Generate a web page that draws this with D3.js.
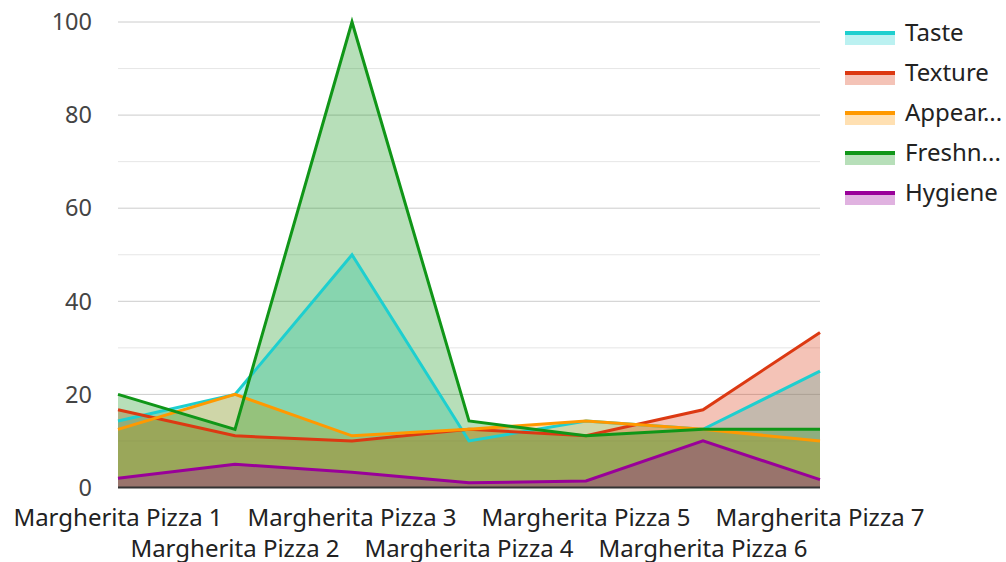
<!DOCTYPE html>
<html><head><meta charset="utf-8">
<script src="https://cdn.jsdelivr.net/npm/d3@7"></script>
<style>body{margin:0;background:#fff;font-family:"Noto Sans",sans-serif;}</style>
</head><body><svg id="c" width="1006" height="562"></svg>
<script>
const categories = ["Margherita Pizza 1","Margherita Pizza 2","Margherita Pizza 3","Margherita Pizza 4","Margherita Pizza 5","Margherita Pizza 6","Margherita Pizza 7"];
const seriesNames = ["Taste","Texture","Appearance","Freshness","Hygiene"];
const legendLabels = ["Taste","Texture","Appear...","Freshn...","Hygiene"];
const colors = ["#1ecfcf","#dc3912","#ff9900","#109618","#990099"];
const taste = [14.3, 20, 50, 10, 14.3, 12.5, 25];
const texture = [16.7, 11.1, 10, 12.5, 11.1, 16.7, 33.3];
const appearance = [12.5, 20, 11.1, 12.5, 14.3, 12.5, 10];
const freshness = [20, 12.5, 100, 14.3, 11.1, 12.5, 12.5];
const hygiene = [2, 5, 3.3, 1, 1.4, 10, 1.7];
const yTicks = [0, 20, 40, 60, 80, 100];
const yMinor = [10, 30, 50, 70, 90];
const series = [taste, texture, appearance, freshness, hygiene];

const svg = d3.select("#c");
const pLeft = 118, pRight = 820, pTop = 22, pBottom = 487.5;
const x = d3.scalePoint().domain(categories).range([pLeft, pRight]);
const y = d3.scaleLinear().domain([0, 100]).range([pBottom, pTop]);

svg.append("g").selectAll("line").data(yMinor).join("line")
  .attr("x1", pLeft).attr("x2", pRight).attr("y1", d => y(d)).attr("y2", d => y(d))
  .attr("stroke", "#e6e6e6").attr("stroke-width", 1);
svg.append("g").selectAll("line").data(yTicks.filter(d => d > 0)).join("line")
  .attr("x1", pLeft).attr("x2", pRight).attr("y1", d => y(d)).attr("y2", d => y(d))
  .attr("stroke", "#cccccc").attr("stroke-width", 1);

svg.append("g").selectAll("text").data(yTicks).join("text")
  .attr("x", 92).attr("y", d => y(d)).attr("dy", "0.35em")
  .attr("text-anchor", "end").attr("font-size", 23.5).attr("fill", "#444")
  .text(d => d);

const area = d3.area().x((d, i) => x(categories[i])).y0(y(0)).y1(d => y(d));
const line = d3.line().x((d, i) => x(categories[i])).y(d => y(d));

svg.append("g").selectAll("path").data(series).join("path")
  .attr("d", d => area(d)).attr("fill", (d, i) => colors[i]).attr("fill-opacity", 0.3);
svg.append("g").selectAll("path").data(series).join("path")
  .attr("d", d => line(d)).attr("fill", "none").attr("stroke", (d, i) => colors[i])
  .attr("stroke-width", 3).attr("stroke-linejoin", "miter");

svg.append("line").attr("x1", pLeft).attr("x2", pRight).attr("y1", y(0)).attr("y2", y(0))
  .attr("stroke", "#333").attr("stroke-width", 2);

svg.append("g").selectAll("text").data(categories).join("text")
  .attr("x", d => x(d)).attr("y", (d, i) => i % 2 === 0 ? 526 : 557)
  .attr("text-anchor", "middle").attr("font-size", 24).attr("fill", "#222")
  .text(d => d);

const lg = svg.append("g").selectAll("g").data(seriesNames).join("g")
  .attr("transform", (d, i) => `translate(845,${31 + i * 40})`);
lg.append("rect").attr("x", 0).attr("y", 3).attr("width", 50).attr("height", 11)
  .attr("fill", (d, i) => colors[i]).attr("fill-opacity", 0.3);
lg.append("rect").attr("x", 0).attr("y", 0).attr("width", 50).attr("height", 4)
  .attr("fill", (d, i) => colors[i]);
lg.append("text").attr("x", 60).attr("y", 2).attr("dy", "0.35em")
  .attr("font-size", 24).attr("fill", "#222")
  .text((d, i) => legendLabels[i]);
</script></body></html>
